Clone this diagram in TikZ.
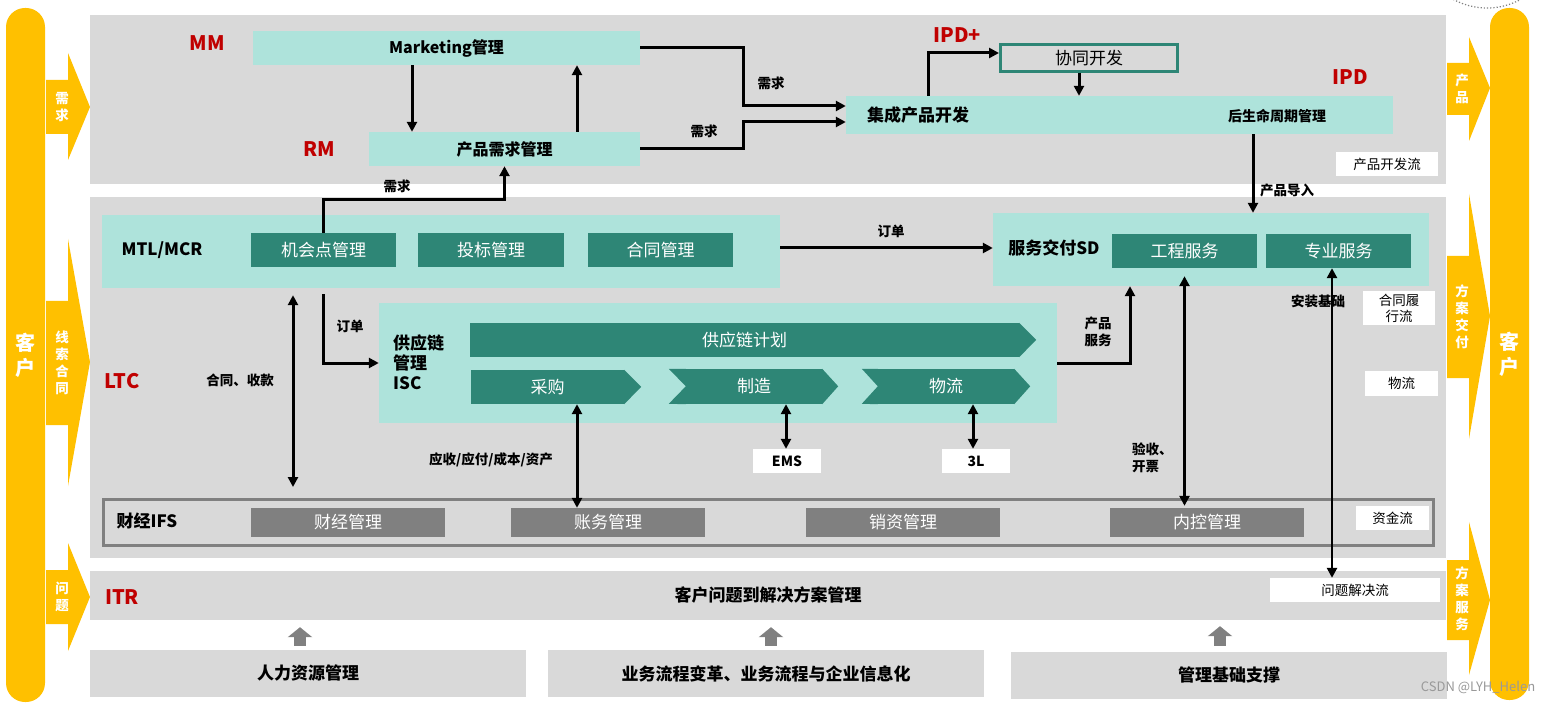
\documentclass[tikz,border=0pt]{standalone}
\usepackage{fontspec}
\setmainfont{Noto Sans CJK SC}
\usetikzlibrary{arrows.meta}

\definecolor{panelgray}{HTML}{D9D9D9}
\definecolor{ltteal}{HTML}{AEE3DB}
\definecolor{dkteal}{HTML}{2E8676}
\definecolor{boxgray}{HTML}{808080}
\definecolor{custyellow}{HTML}{FFC000}
\definecolor{tagred}{HTML}{C00000}

\tikzset{
  panel/.style={fill=panelgray, inner sep=0pt},
  ltbox/.style={fill=ltteal, inner sep=0pt},
  dkbox/.style={fill=dkteal, text=white, inner sep=0pt, font=\fontsize{17}{20}\selectfont},
  gybox/.style={fill=boxgray, text=white, inner sep=0pt, minimum width=194pt, minimum height=29pt, font=\fontsize{17}{20}\selectfont},
  flowbox/.style={fill=white, inner sep=0pt, align=center, font=\fontsize{13.5}{16}\selectfont},
  lbl/.style={font=\bfseries\fontsize{13.5}{17}\selectfont, inner sep=0pt, align=left},
  head/.style={font=\bfseries\fontsize{17}{20}\selectfont, inner sep=0pt, align=left},
  tag/.style={text=tagred, font=\bfseries\fontsize{20}{24}\selectfont, inner sep=0pt},
  bar/.style={fill=custyellow, rounded corners=19pt, minimum width=39pt, inner sep=0pt,
    text=white, align=center, font=\bfseries\fontsize{20}{25}\selectfont},
  ytext/.style={text=white, align=center, inner sep=0pt, font=\bfseries\fontsize{13.5}{17}\selectfont},
  arr/.style={line width=3pt, -{Triangle[length=10pt,width=10pt]}},
  dbl/.style={line width=3pt, {Triangle[length=10pt,width=10pt]}-{Triangle[length=10pt,width=10pt]}},
  fat/.style={draw=boxgray, line width=12pt, -{Triangle[length=10pt,width=24pt]}},
}

\begin{document}
\begin{tikzpicture}[x=1pt, y=-1pt]

  \useasboundingbox (0,0) rectangle (1558,703);
  \fill[white] (0,0) rectangle (1558,703);
  \begin{scope}
    \clip (0,0) rectangle (1558,703);
    \draw[gray, dotted, line width=1.2pt] (1487,-62) circle[radius=70];
  \end{scope}

  % customers and flows
  \node[bar, minimum height=694pt] (custl) at (25.5,355) {客\\户};
  \node[bar, minimum height=692pt] (custr) at (1509.5,354) {客\\户};

  \fill[custyellow] (46,80) -- (68,80) -- (68,53) -- (90,107) -- (68,160) -- (68,134) -- (46,134) -- cycle;
  \fill[custyellow] (46,301) -- (68,301) -- (68,239) -- (90,362) -- (68,486) -- (68,425) -- (46,425) -- cycle;
  \fill[custyellow] (46,570) -- (68,570) -- (68,543) -- (90,597) -- (68,651) -- (68,624) -- (46,624) -- cycle;
  \fill[custyellow] (1447,63) -- (1469,63) -- (1469,37) -- (1490,88) -- (1469,141) -- (1469,115) -- (1447,115) -- cycle;
  \fill[custyellow] (1447,256) -- (1469,256) -- (1469,194) -- (1490,316) -- (1469,439) -- (1469,378) -- (1447,378) -- cycle;
  \fill[custyellow] (1447,560) -- (1469,560) -- (1469,522) -- (1490,600) -- (1469,675) -- (1469,640) -- (1447,640) -- cycle;
  \node[ytext] (inreq) at (62,107) {需\\求};
  \node[ytext] (inlead) at (62,363) {线\\索\\合\\同};
  \node[ytext] (inissue) at (62,597) {问\\题};
  \node[ytext] (outprod) at (1462,89) {产\\品};
  \node[ytext] (outdlv) at (1462,317) {方\\案\\交\\付};
  \node[ytext] (outsrv) at (1462,599) {方\\案\\服\\务};

  % panels
  \node[panel, minimum width=1356pt, minimum height=169pt] (mmpan) at (768,99.5) {};
  \node[panel, minimum width=1356pt, minimum height=361pt] (ltcpan) at (768,377.5) {};
  \node[panel, minimum width=1356pt, minimum height=49pt] (itrpan) at (768,595.5) {};
  \node[panel, head, minimum width=436pt, minimum height=47pt] (hrm) at (308,673.5) {人力资源管理};
  \node[panel, head, minimum width=436pt, minimum height=47pt] (bpit) at (766,673.5) {业务流程变革、业务流程与企业信息化};
  \node[panel, head, minimum width=436pt, minimum height=47pt] (mgsup) at (1229,675.5) {管理基础支撑};

  % MM / RM / IPD
  \node[tag] (tmm) at (207,43) {MM};
  \node[tag] (trm) at (319,149) {RM};
  \node[tag] (tipdp) at (957,35) {IPD+};
  \node[tag] (tipd) at (1350,77) {IPD};
  \node[ltbox, head, font=\bfseries\fontsize{16}{19}\selectfont, minimum width=387pt, minimum height=34pt] (mkt) at (446.5,48) {Marketing管理};
  \node[ltbox, head, font=\bfseries\fontsize{16}{19}\selectfont, minimum width=271pt, minimum height=34pt] (prm) at (504.5,149) {产品需求管理};
  \node[ltbox, minimum width=547pt, minimum height=38pt] (ipd) at (1119.5,115) {};
  \node[head] (ipdt) at (918,115) {集成产品开发};
  \node[lbl, font=\bfseries\fontsize{14}{17}\selectfont] (plm) at (1277,116) {后生命周期管理};
  \node[draw=dkteal, line width=3pt, inner sep=0pt, minimum width=177pt, minimum height=27pt,
    font=\fontsize{17}{20}\selectfont] (cod) at (1089,58) {协同开发};
  \node[flowbox, minimum width=102pt, minimum height=24pt] (pdflow) at (1387,164) {产品开发流};

  \draw[arr] ([xshift=-34.5pt]mkt.south) -- ([xshift=-34.5pt]mkt.south |- prm.north);
  \draw[arr] ([xshift=72.5pt]prm.north) -- ([xshift=72.5pt]prm.north |- mkt.south);
  \draw[arr] (mkt.east) -- ++(103,0) |- ([yshift=9pt]ipd.west);
  \draw[arr] (prm.east) -- ++(103,0) |- ([yshift=-7pt]ipd.west);
  \draw[arr] ([xshift=-191.5pt]ipd.north) |- ([yshift=5pt]cod.west);
  \draw[arr] ([xshift=-10pt]cod.south) -- ([xshift=-10pt]cod.south |- ipd.north);
  \node[lbl] (dem1) at (771,83) {需求};
  \node[lbl] (dem2) at (704,131) {需求};

  % LTC
  \node[tag] (tltc) at (122,381) {LTC};
  \node[ltbox, minimum width=678pt, minimum height=73pt] (mtl) at (441,251.5) {};
  \node[head] (mtlt) at (162,250) {MTL/MCR};
  \node[dkbox, minimum width=145pt, minimum height=34pt] (opp) at (323.5,250) {机会点管理};
  \node[dkbox, minimum width=146pt, minimum height=34pt] (bid) at (491,250) {投标管理};
  \node[dkbox, minimum width=145pt, minimum height=34pt] (ctr) at (660.5,250) {合同管理};

  \node[ltbox, minimum width=436pt, minimum height=73pt] (sd) at (1211,249.5) {};
  \node[head] (sdt) at (1054,248) {服务交付SD};
  \node[dkbox, minimum width=145pt, minimum height=34pt] (eng) at (1184.5,251) {工程服务};
  \node[dkbox, minimum width=145pt, minimum height=34pt] (pro) at (1338.5,251) {专业服务};

  \node[ltbox, minimum width=678pt, minimum height=120pt] (isc) at (718,363) {};
  \node[head, anchor=west] (isct) at (393,362) {供应链\\管理\\ISC};
  \node[dkbox, minimum width=549pt, minimum height=34pt] (scp) at (744.5,340) {供应链计划};
  \fill[dkteal] (scp.north east) -- ++(17,17) -- (scp.south east) -- cycle;
  \node[dkbox, minimum width=153pt, minimum height=34pt] (pur) at (547.5,387) {采购};
  \fill[dkteal] (pur.north east) -- ++(17,17) -- (pur.south east) -- cycle;
  \node[dkbox, minimum width=136pt, minimum height=35pt] (mfg) at (754,386.5) {制造};
  \fill[dkteal] (mfg.north east) -- ++(16,17.5) -- (mfg.south east) -- cycle;
  \fill[dkteal] (mfg.north west) -- ++(-17,0) -- ++(17,17.5) -- ++(-17,17.5) -- (mfg.south west) -- cycle;
  \node[dkbox, minimum width=136pt, minimum height=35pt] (log) at (946,386.5) {物流};
  \fill[dkteal] (log.north east) -- ++(16,17.5) -- (log.south east) -- cycle;
  \fill[dkteal] (log.north west) -- ++(-16,0) -- ++(16,17.5) -- ++(-16,17.5) -- (log.south west) -- cycle;

  \node[flowbox, font=\bfseries\fontsize{14}{17}\selectfont, minimum width=68pt, minimum height=24pt] (ems) at (787,461) {EMS};
  \node[flowbox, font=\bfseries\fontsize{14}{17}\selectfont, minimum width=68pt, minimum height=24pt] (tpl) at (976,461) {3L};
  \node[flowbox, minimum width=72pt, minimum height=34pt] (cfl) at (1399,308) {合同履\\行流};
  \node[flowbox, minimum width=73pt, minimum height=25pt] (lfl) at (1401.5,383.5) {物流};
  \node[flowbox, minimum width=73pt, minimum height=24pt] (mfl) at (1392.5,518) {资金流};

  % IFS
  \node[draw=boxgray, line width=3pt, inner sep=0pt, minimum width=1330pt, minimum height=46pt] (ifs) at (768.5,522.5) {};
  \node[head] (ifst) at (147,521) {财经IFS};
  \node[gybox] (fin) at (348,522.5) {财经管理};
  \node[gybox] (acc) at (608,522.5) {账务管理};
  \node[gybox] (sal) at (903,522.5) {销资管理};
  \node[gybox] (int) at (1207,522.5) {内控管理};

  % ITR
  \node[tag] (titr) at (122,597) {ITR};
  \node[head] (itrt) at (768,595) {客户问题到解决方案管理};
  \node[flowbox, minimum width=170pt, minimum height=24pt] (prb) at (1355,590) {问题解决流};

  % labels
  \node[lbl] (dem3) at (397,186) {需求};
  \node[lbl] (ord1) at (891,231) {订单};
  \node[lbl] (ord2) at (350,326) {订单};
  \node[lbl] (cpay) at (240,380) {合同、收款};
  \node[lbl] (fina) at (491,460) {应收/应付/成本/资产};
  \node[lbl] (psrv) at (1098,332) {产品\\服务};
  \node[lbl, anchor=west] (chk) at (1132,458) {验收、\\开票};
  \node[lbl] (pimp) at (1287,190) {产品导入};
  \node[lbl] (inst) at (1318,301) {安装基础};

  % arcs
  \draw[arr] ([xshift=133.5pt]ipd.south) -- ([xshift=133.5pt]ipd.south |- sd.north);
  \draw[arr] (opp.north) -- ++(0,-33) -| (prm.south);
  \draw[arr] ([yshift=-6pt]opp.south |- mtl.south) |- (isc.west);
  \draw[arr] ([yshift=3.5pt]mtl.east) -- ([yshift=3.5pt]mtl.east -| sd.west);
  \draw[arr] (isc.east) -| ([xshift=-81pt]sd.south);
  \draw[dbl] ([xshift=-148pt, yshift=-7pt]mtl.south) -- ([xshift=-148pt, yshift=11pt]mtl.south |- ifs.north);
  \draw[dbl] ([xshift=29.5pt]pur.south) -- ([xshift=29.5pt]pur.south |- acc.north);
  \draw[dbl] ([xshift=32pt]mfg.south) -- ([xshift=32pt]mfg.south |- ems.north);
  \draw[dbl] ([xshift=27pt]log.south) -- ([xshift=27pt]log.south |- tpl.north);
  \draw[dbl] ([yshift=-8pt]eng.south) -- ([yshift=2pt]eng.south |- int.north);
  \draw[dbl, line width=2.5pt] ([xshift=-6.5pt]pro.south) -- ([xshift=-6.5pt]pro.south |- prb.north);

  % support
  \draw[fat] ([xshift=-8pt, yshift=4pt]hrm.north) -- ([xshift=-8pt, yshift=-7pt]hrm.north |- itrpan.south);
  \draw[fat] ([xshift=5pt, yshift=4pt]bpit.north) -- ([xshift=5pt, yshift=-7pt]bpit.north |- itrpan.south);
  \draw[fat] ([xshift=-9pt, yshift=6pt]mgsup.north) -- ([xshift=-9pt, yshift=-6pt]mgsup.north |- itrpan.south);

  \node[text=gray!80, inner sep=0pt, font=\fontsize{13}{15}\selectfont] (wm) at (1478,687) {CSDN @LYH\_Helen};

\end{tikzpicture}
\end{document}
